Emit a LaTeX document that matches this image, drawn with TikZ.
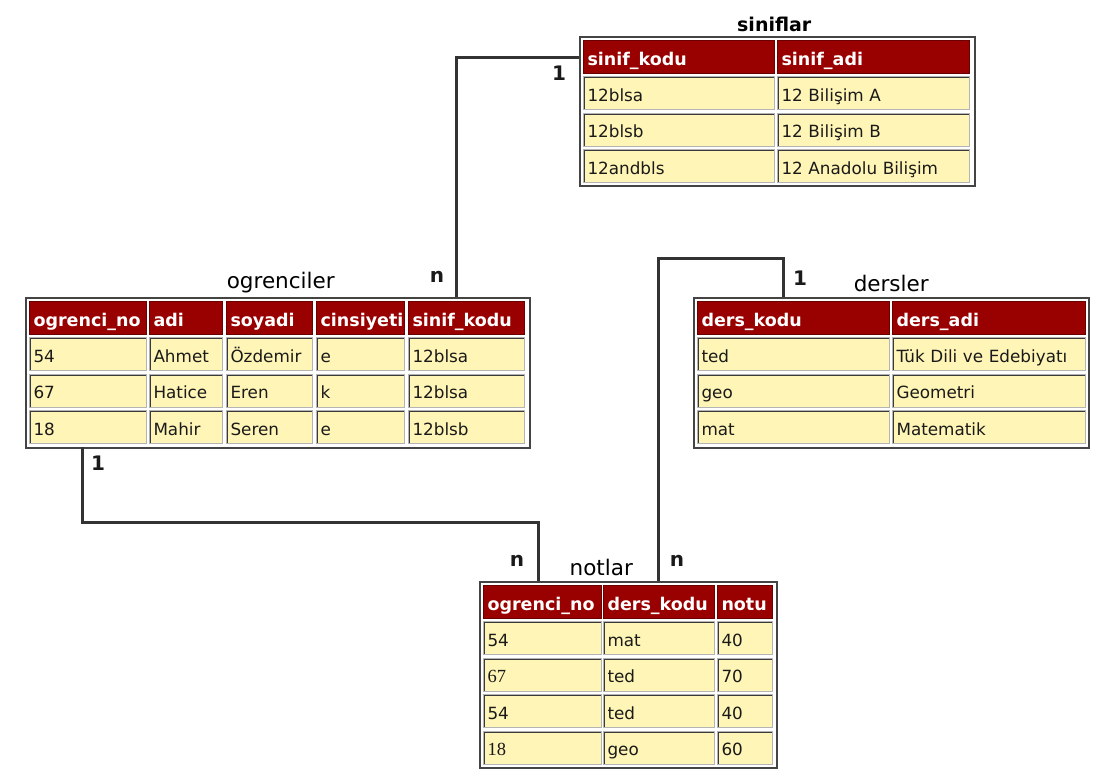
\documentclass[tikz,border=0pt]{standalone}
\usepackage{fontspec}
\setmainfont{DejaVu Sans}
\newfontfamily\timesfont{Liberation Serif}
\usetikzlibrary{positioning,calc}
\definecolor{hdrred}{HTML}{990000}
\definecolor{cellyel}{HTML}{FFF5B6}
\definecolor{celldark}{HTML}{3A3A3A}
\definecolor{celllight}{HTML}{B4B4B4}
\definecolor{tblline}{HTML}{444444}
\definecolor{relgray}{HTML}{333333}
\definecolor{txt}{HTML}{1A1A1A}
\tikzset{
  tbl/.style={draw=tblline, line width=1.5pt, fill=white, anchor=north west, inner sep=0pt},
  cellbase/.style={anchor=north west, inner xsep=0pt, inner ysep=0pt, align=left,
    minimum height=33, text height=16pt, text depth=0pt,
    execute at begin node=\hspace*{4pt}},
  hdr/.style={cellbase, text width=#1, fill=hdrred, draw=hdrred!70!black, line width=1pt,
    text=white, font=\fontsize{17.5}{19}\selectfont\bfseries},
  cell/.style={cellbase, text width=#1, fill=cellyel, draw=celllight, line width=1pt,
    text=txt, font=\fontsize{16.8}{18}\selectfont,
    path picture={\draw[celldark, line width=3pt]
      (path picture bounding box.south west) -- (path picture bounding box.north west)
      -- (path picture bounding box.north east);}},
  rel/.style={draw=relgray, line width=3pt},
  card/.style={text=txt, font=\fontsize{20}{22}\selectfont\bfseries},
  title/.style={text=black, font=\fontsize{21.5}{24}\selectfont}
}

\begin{document}
\begin{tikzpicture}[x=1pt,y=-1pt]
\useasboundingbox (0,0) rectangle (1098,777);

  % siniflar
\node[tbl, minimum width=395, minimum height=149] (siniflar) at (579,36) {};
\node[title, font=\fontsize{19}{21}\selectfont\bfseries, above=1pt of siniflar, xshift=-3pt] (siniflar-t) {siniflar};
\foreach \x/\w/\t [count=\i] in {583/191/sinif\_kodu, 777/192/sinif\_adi}
  \node[hdr=\w pt] (sin-h\i) at (\x,40) {\t};
\foreach \y/\a/\b [count=\r] in {76/12blsa/12 Bilişim A, 112.5/12blsb/12 Bilişim B,
    149/12andbls/12 Anadolu Bilişim}
{
  \node[cell=191pt] (sin-\r-1) at (583,\y) {\a};
  \node[cell=192pt] (sin-\r-2) at (777,\y) {\b};
}

  % ogrenciler
\node[tbl, minimum width=504, minimum height=150] (ogrenciler) at (25,297) {};
\node[title, above=1pt of ogrenciler, xshift=3pt] (ogrenciler-t) {ogrenciler};
\foreach \x/\w/\t [count=\i] in {29/117/ogrenci\_no, 149/73/adi, 226/86/soyadi,
    316/88/cinsiyeti, 408/116/sinif\_kodu}
  \node[hdr=\w pt] (ogr-h\i) at (\x,301) {\t};
\foreach \y/\a/\b/\c/\d/\e [count=\r] in {337/54/Ahmet/Özdemir/e/12blsa,
    373.5/67/Hatice/Eren/k/12blsa, 410/18/Mahir/Seren/e/12blsb}
{
  \node[cell=117pt] (ogr-\r-1) at (29,\y) {\a};
  \node[cell=73pt] (ogr-\r-2) at (149,\y) {\b};
  \node[cell=86pt] (ogr-\r-3) at (226,\y) {\c};
  \node[cell=88pt] (ogr-\r-4) at (316,\y) {\d};
  \node[cell=116pt] (ogr-\r-5) at (408,\y) {\e};
}

  % dersler
\node[tbl, minimum width=395, minimum height=150] (dersler) at (693,297) {};
\node[title, above=2pt of dersler] (dersler-t) {dersler};
\foreach \x/\w/\t [count=\i] in {697/192/ders\_kodu, 892/193/ders\_adi}
  \node[hdr=\w pt] (ders-h\i) at (\x,301) {\t};
\foreach \y/\a/\b [count=\r] in {337/ted/Tük Dili ve Edebiyatı, 373.5/geo/Geometri,
    410/mat/Matematik}
{
  \node[cell=192pt] (ders-\r-1) at (697,\y) {\a};
  \node[cell=193pt] (ders-\r-2) at (892,\y) {\b};
}

  % notlar
\node[tbl, minimum width=297, minimum height=186] (notlar) at (479,581) {};
\node[title, above=2pt of notlar, xshift=-27pt] (notlar-t) {notlar};
\foreach \x/\w/\t [count=\i] in {483/118/ogrenci\_no, 603/111/ders\_kodu, 717/55/notu}
  \node[hdr=\w pt] (not-h\i) at (\x,585) {\t};
\foreach \y/\a/\b/\c [count=\r] in {621/54/mat/40, 657.5/{\timesfont\fontsize{18.5}{20}\selectfont 67}/ted/70,
    694/54/ted/40, 730.5/{\timesfont\fontsize{18.5}{20}\selectfont 18}/geo/60}
{
  \node[cell=118pt] (not-\r-1) at (483,\y) {\a};
  \node[cell=111pt] (not-\r-2) at (603,\y) {\b};
  \node[cell=55pt] (not-\r-3) at (717,\y) {\c};
}

  % iliskiler
\coordinate (ogr-in) at (456,297);
\coordinate (ogr-out) at (82,447);
\coordinate (ders-out) at (783,297);
\coordinate (not-in1) at (538,581);
\coordinate (not-in2) at (658,581);
\draw[rel] (siniflar.west |- sin-h1) -| (ogr-in);
\draw[rel] (ogr-out) -- ++(0,75) -| (not-in1);
\draw[rel] (ders-out) -- ++(0,-39) -| (not-in2);

\node[card] (k-sin) at (559,73) {1};
\node[card] (k-ogr1) at (437,277) {n};
\node[card] (k-ogr2) at (98,463) {1};
\node[card] (k-not1) at (517,561) {n};
\node[card] (k-ders) at (800,278) {1};
\node[card] (k-not2) at (677,561) {n};
\end{tikzpicture}
\end{document}
